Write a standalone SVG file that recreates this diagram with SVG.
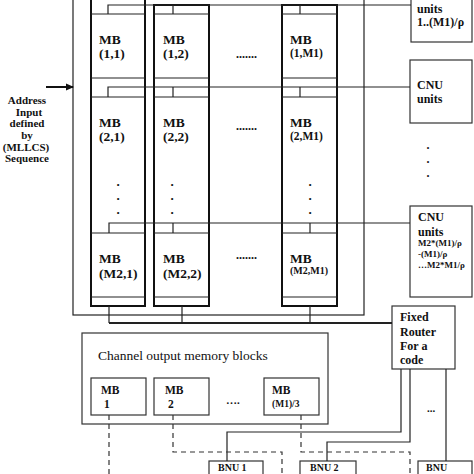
<svg xmlns="http://www.w3.org/2000/svg" width="474" height="474" viewBox="0 0 474 474">
<style>
.b{font-family:"Liberation Serif",serif;font-weight:bold;fill:#111}
.r{font-family:"Liberation Serif",serif;fill:#111}
.col{fill:#fff;stroke:#111;stroke-width:2}
.box{fill:#fff;stroke:#333;stroke-width:1.2}
.ln{fill:none;stroke:#222;stroke-width:1.2}
.tk{fill:none;stroke:#222;stroke-width:1.8}
.ds{fill:none;stroke:#333;stroke-width:1.2;stroke-dasharray:5,4}
</style>
<defs>
<marker id="ah" markerWidth="8" markerHeight="8" refX="7" refY="4" orient="auto" markerUnits="userSpaceOnUse">
<path d="M0,0.5 L8,4 L0,7.5 z" fill="#111"/>
</marker>
</defs>
<rect width="474" height="474" fill="#fff"/>

<g id="frame">
<rect x="73" y="-5" width="291" height="320" class="ln"/>
</g>

<g id="column1">
<rect x="91" y="-5" width="54" height="311" class="col"/>
<line x1="91" y1="14" x2="145" y2="14" class="ln"/>
<line x1="91" y1="78" x2="145" y2="78" class="ln"/>
<line x1="91" y1="97" x2="145" y2="97" class="ln"/>
<line x1="91" y1="233" x2="145" y2="233" class="ln"/>
<line x1="91" y1="297" x2="145" y2="297" class="ln"/>
<text class="b" font-size="13.5" x="99" y="44">MB</text>
<text class="b" font-size="13.5" x="99" y="58">(1,1)</text>
<text class="b" font-size="13.5" x="99" y="127">MB</text>
<text class="b" font-size="13.5" x="99" y="141">(2,1)</text>
<text class="b" font-size="13.5" x="99" y="263">MB</text>
<text class="b" font-size="13.5" x="99" y="278">(M2,1)</text>
<text class="b" font-size="13" x="118" y="186" text-anchor="middle">.</text>
<text class="b" font-size="13" x="118" y="200" text-anchor="middle">.</text>
<text class="b" font-size="13" x="118" y="214" text-anchor="middle">.</text>
</g>

<g id="column2">
<rect x="154" y="5" width="55" height="301" class="col"/>
<line x1="154" y1="14" x2="209" y2="14" class="ln"/>
<line x1="154" y1="78" x2="209" y2="78" class="ln"/>
<line x1="154" y1="97" x2="209" y2="97" class="ln"/>
<line x1="154" y1="233" x2="209" y2="233" class="ln"/>
<line x1="154" y1="297" x2="209" y2="297" class="ln"/>
<text class="b" font-size="13.5" x="163" y="44">MB</text>
<text class="b" font-size="13.5" x="163" y="58">(1,2)</text>
<text class="b" font-size="13.5" x="163" y="127">MB</text>
<text class="b" font-size="13.5" x="163" y="141">(2,2)</text>
<text class="b" font-size="13.5" x="163" y="263">MB</text>
<text class="b" font-size="13.5" x="163" y="278">(M2,2)</text>
<text class="b" font-size="13" x="172" y="186" text-anchor="middle">.</text>
<text class="b" font-size="13" x="172" y="200" text-anchor="middle">.</text>
<text class="b" font-size="13" x="172" y="214" text-anchor="middle">.</text>
</g>

<g id="columnM1">
<rect x="282" y="5" width="55" height="301" class="col"/>
<line x1="282" y1="14" x2="337" y2="14" class="ln"/>
<line x1="282" y1="78" x2="337" y2="78" class="ln"/>
<line x1="282" y1="97" x2="337" y2="97" class="ln"/>
<line x1="282" y1="233" x2="337" y2="233" class="ln"/>
<line x1="282" y1="297" x2="337" y2="297" class="ln"/>
<text class="b" font-size="13.5" x="290" y="44">MB</text>
<text class="b" font-size="11.5" x="290" y="57">(1,M1)</text>
<text class="b" font-size="13.5" x="290" y="127">MB</text>
<text class="b" font-size="11.5" x="290" y="140">(2,M1)</text>
<text class="b" font-size="13.5" x="290" y="263">MB</text>
<text class="b" font-size="10" x="290" y="274">(M2,M1)</text>
<text class="b" font-size="13" x="310" y="186" text-anchor="middle">.</text>
<text class="b" font-size="13" x="310" y="200" text-anchor="middle">.</text>
<text class="b" font-size="13" x="310" y="214" text-anchor="middle">.</text>
</g>

<g id="rowdots">
<text class="b" font-size="12" x="236" y="58">.......</text>
<text class="b" font-size="12" x="236" y="130">.......</text>
<text class="b" font-size="12" x="236" y="259">.......</text>
</g>

<g id="address">
<text class="b" font-size="11" x="27" y="104" text-anchor="middle">Address</text>
<text class="b" font-size="11" x="29" y="116" text-anchor="middle">Input</text>
<text class="b" font-size="11" x="27" y="127" text-anchor="middle">defined</text>
<text class="b" font-size="11" x="27" y="139" text-anchor="middle">by</text>
<text class="b" font-size="11" x="26" y="151" text-anchor="middle">(MLLCS)</text>
<text class="b" font-size="11" x="27" y="162" text-anchor="middle">Sequence</text>
</g>

<g id="cnu1">
<rect x="411" y="-5" width="61" height="47" class="box"/>
<text class="b" font-size="12" x="417" y="13">units</text>
<text class="b" font-size="12" x="417" y="26">1..(M1)/ρ</text>
</g>
<g id="cnu2">
<rect x="410" y="60" width="62" height="63" class="box"/>
<text class="b" font-size="12" x="417" y="89">CNU</text>
<text class="b" font-size="12" x="417" y="103">units</text>
</g>
<g id="cnudots">
<text class="b" font-size="12" x="428" y="149" text-anchor="middle">.</text>
<text class="b" font-size="12" x="428" y="163" text-anchor="middle">.</text>
<text class="b" font-size="12" x="428" y="177" text-anchor="middle">.</text>
</g>
<g id="cnu3">
<rect x="410" y="206" width="62" height="91" class="box"/>
<text class="b" font-size="12" x="418" y="221">CNU</text>
<text class="b" font-size="12" x="418" y="236">units</text>
<text class="b" font-size="9" x="418" y="246">M2*(M1)/ρ</text>
<text class="b" font-size="9" x="418" y="257">-(M1)/ρ</text>
<text class="b" font-size="9" x="418" y="268">…M2*M1/ρ</text>
</g>

<g id="router">
<rect x="392" y="306" width="63" height="63" class="box"/>
<text class="b" font-size="12" x="400" y="321">Fixed</text>
<text class="b" font-size="12" x="400" y="336">Router</text>
<text class="b" font-size="12" x="400" y="350">For a</text>
<text class="b" font-size="12" x="400" y="364">code</text>
</g>

<g id="channel">
<rect x="82" y="333" width="246" height="91" class="box"/>
<text class="r" font-size="13.5" x="98" y="360">Channel output memory blocks</text>
</g>
<g id="mb1">
<rect x="91" y="378" width="55" height="37" class="box"/>
<text class="b" font-size="11.5" x="101" y="394">MB</text>
<text class="b" font-size="11.5" x="104" y="408">1</text>
</g>
<g id="mb2">
<rect x="154" y="378" width="55" height="37" class="box"/>
<text class="b" font-size="11.5" x="165" y="394">MB</text>
<text class="b" font-size="11.5" x="168" y="408">2</text>
</g>
<text class="b" font-size="11" x="226" y="404">….</text>
<g id="mbm13">
<rect x="264" y="378" width="55" height="37" class="box"/>
<text class="b" font-size="11.5" x="272" y="394">MB</text>
<text class="b" font-size="9.5" x="272" y="407">(M1)/3</text>
</g>

<g id="bnu1">
<rect x="209" y="461" width="54" height="20" class="box"/>
<text class="b" font-size="10" x="218" y="471">BNU 1</text>
</g>
<g id="bnu2">
<rect x="300" y="461" width="56" height="20" class="box"/>
<text class="b" font-size="10" x="310" y="471">BNU 2</text>
</g>
<text class="b" font-size="11" x="427" y="412">...</text>
<g id="bnu3">
<rect x="418" y="461" width="54" height="20" class="box"/>
<text class="b" font-size="10" x="426" y="471">BNU</text>
</g>

<g id="connectors">
<line x1="46" y1="87" x2="73" y2="87" stroke="#111" stroke-width="2" marker-end="url(#ah)"/>
<path d="M108,14 V5 H411" class="ln"/>
<line x1="173" y1="5" x2="173" y2="14" class="ln"/>
<line x1="300" y1="5" x2="300" y2="14" class="ln"/>
<path d="M108,97 V87 H410" class="ln"/>
<line x1="173" y1="87" x2="173" y2="97" class="ln"/>
<line x1="300" y1="87" x2="300" y2="97" class="ln"/>
<path d="M109,233 V223 H410" class="ln"/>
<line x1="173" y1="223" x2="173" y2="233" class="ln"/>
<line x1="310" y1="223" x2="310" y2="233" class="ln"/>
<line x1="109" y1="306" x2="109" y2="323" class="ln"/>
<line x1="182" y1="306" x2="182" y2="323" class="ln"/>
<line x1="310" y1="306" x2="310" y2="323" class="ln"/>
<line x1="109" y1="323" x2="392" y2="323" class="tk"/>
<path d="M401,369 V432 H227 V461" class="ln"/>
<path d="M410,369 V442 H327 V461" class="ln"/>
<line x1="446" y1="369" x2="446" y2="461" class="ln"/>
<line x1="109" y1="415" x2="109" y2="474" class="ds"/>
<path d="M173,415 V452 H282 V474" class="ds"/>
<path d="M301,415 V452 H410 V474" class="ds"/>
</g>
</svg>
